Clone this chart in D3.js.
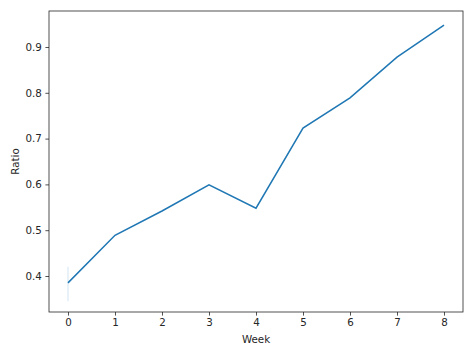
<!DOCTYPE html>
<html>
<head>
<meta charset="utf-8">
<script src="https://cdn.jsdelivr.net/npm/d3@7"></script>
<style>
  body { margin: 0; background: #fff; }
  text { font-family: "DejaVu Sans", sans-serif; fill: #262626; }
</style>
</head>
<body>
<div id="chart"></div>
<script>
var weeks = [0, 1, 2, 3, 4, 5, 6, 7, 8]
var ratio = [0.385, 0.489, 0.542, 0.599, 0.548, 0.723, 0.789, 0.878, 0.948]
// error bar, only week 0 has spread
var ciLow = [0.345, 0.489, 0.542, 0.599, 0.548, 0.723, 0.789, 0.878, 0.948]
var ciHigh = [0.420, 0.489, 0.542, 0.599, 0.548, 0.723, 0.789, 0.878, 0.948]
var yTicks = [0.4, 0.5, 0.6, 0.7, 0.8, 0.9]

var width = 474, height = 355
var margin = { top: 11, right: 11, bottom: 43, left: 49 }
var w = width - margin.left - margin.right
var h = height - margin.top - margin.bottom

var svg = d3.select('#chart')
  .append('svg')
  .attr('width', width)
  .attr('height', height)
  .append('g')
  .attr('transform', 'translate(' + margin.left + ',' + margin.top + ')')

var x = d3.scaleLinear().domain([-0.404, 8.404]).range([0, w])
var y = d3.scaleLinear().domain([0.3214, 0.9786]).range([h, 0])

// error bars
svg.selectAll('.err')
  .data(weeks.filter((d, i) => ciHigh[i] > ciLow[i]))
  .enter()
  .append('line')
  .attr('class', 'err')
  .attr('x1', d => x(d))
  .attr('x2', d => x(d))
  .attr('y1', d => y(ciLow[weeks.indexOf(d)]))
  .attr('y2', d => y(ciHigh[weeks.indexOf(d)]))
  .attr('stroke', '#1f77b4')
  .attr('stroke-opacity', 0.2)
  .attr('stroke-width', 1)

var line = d3.line()
  .x((d, i) => x(weeks[i]))
  .y(d => y(d))
svg.append('path')
  .datum(ratio)
  .attr('d', line)
  .attr('fill', 'none')
  .attr('stroke', '#1f77b4')
  .attr('stroke-width', 1.5)

// axes
var xAxis = svg.append('g')
  .attr('transform', 'translate(0,' + h + ')')
  .call(d3.axisBottom(x).tickValues(weeks).tickSize(3.6).tickPadding(3.5).tickFormat(d3.format('d')))
var yAxis = svg.append('g')
  .call(d3.axisLeft(y).tickValues(yTicks).tickSize(3.6).tickPadding(3.5).tickFormat(d3.format('.1f')))

;[xAxis, yAxis].forEach(function (a) {
  a.select('.domain').remove()
  a.selectAll('line').attr('stroke', '#262626').attr('stroke-width', 0.8)
  a.selectAll('text').attr('font-size', 10.3).attr('font-family', 'DejaVu Sans').attr('fill', '#262626')
})

// frame
svg.append('rect')
  .attr('width', w)
  .attr('height', h)
  .attr('fill', 'none')
  .attr('stroke', '#262626')
  .attr('stroke-width', 0.8)

svg.append('text')
  .attr('x', w / 2)
  .attr('y', h + 31)
  .attr('text-anchor', 'middle')
  .attr('font-size', 10.3)
  .text('Week')

svg.append('text')
  .attr('transform', 'translate(-30,' + h / 2 + ') rotate(-90)')
  .attr('text-anchor', 'middle')
  .attr('font-size', 10.3)
  .text('Ratio')
</script>
</body>
</html>
